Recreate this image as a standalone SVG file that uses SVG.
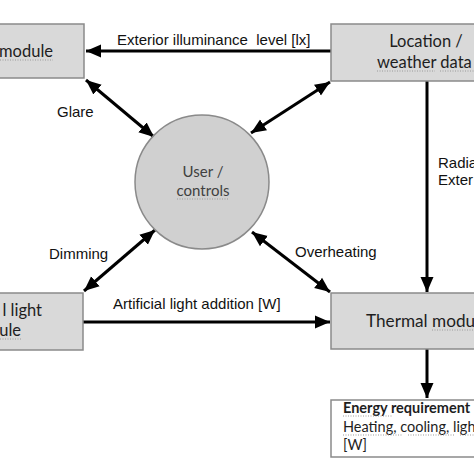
<svg xmlns="http://www.w3.org/2000/svg" width="474" height="474" viewBox="0 0 474 474">
<style>
.box{fill:#d9d9d9;stroke:#8a8a8a;stroke-width:1.5}
.ebox{fill:#ffffff;stroke:#8a8a8a;stroke-width:1.5}
.bt{font-family:Lato,"Liberation Sans",sans-serif;font-size:16.5px;fill:#1e1e1e}
.ct{font-family:Lato,"Liberation Sans",sans-serif;font-size:15px;fill:#404040;text-anchor:middle}
.et{font-family:Lato,"Liberation Sans",sans-serif;font-size:14.5px;fill:#1e1e1e}
.lb{font-family:"Liberation Sans",Arial,sans-serif;font-size:15px;fill:#111}
.con{stroke:#000;stroke-width:3;fill:none}
.one{marker-end:url(#ah)}
.two{marker-start:url(#ah);marker-end:url(#ah)}
.sq{stroke:#9a9a9a;stroke-width:1;stroke-dasharray:1 1.5;fill:none}
</style>
<defs>
<marker id="ah" markerUnits="userSpaceOnUse" markerWidth="16" markerHeight="14" refX="15" refY="7" orient="auto-start-reverse" viewBox="0 0 16 14">
<path d="M0,0.5 L15,7 L0,13.5 z" fill="#000"/>
</marker>
</defs>
<rect width="474" height="474" fill="#fff"/>
<g id="connectors">
<line class="con one" x1="331" y1="51" x2="86" y2="51"/>
<line class="con two" x1="86" y1="80" x2="154" y2="137"/>
<line class="con two" x1="330" y1="82" x2="251" y2="133"/>
<line class="con two" x1="155" y1="230" x2="84" y2="291"/>
<line class="con two" x1="252" y1="232" x2="330" y2="292"/>
<line class="con one" x1="83" y1="322" x2="330" y2="322"/>
<line class="con one" x1="427" y1="81" x2="427" y2="292"/>
<line class="con one" x1="427" y1="349" x2="427" y2="398"/>
</g>
<g id="labels">
<text class="lb" x="117" y="45" xml:space="preserve">Exterior illuminance  level [lx]</text>
<text class="lb" x="57" y="117">Glare</text>
<text class="lb" x="49" y="259">Dimming</text>
<text class="lb" x="295" y="257">Overheating</text>
<text class="lb" x="113" y="309">Artificial light addition [W]</text>
<text class="lb" x="438" y="168">Radia</text>
<text class="lb" x="438" y="185">Exter</text>
</g>
<g id="daylight-module">
<rect class="box" x="-10" y="24" width="94" height="54"/>
<text class="bt" x="53" y="57" text-anchor="end">module</text>
<path class="sq" d="M0,60 H53"/>
</g>
<g id="location-weather">
<rect class="box" x="331" y="24" width="150" height="57"/>
<text class="bt" x="426" y="47" text-anchor="middle">Location /</text>
<text class="bt" x="377" y="68">weather data</text>
<path class="sq" d="M377,71 H435 M440,71 H474"/>
</g>
<g id="user-controls">
<circle cx="202" cy="182" r="67" fill="#d0d0d0" stroke="#8a8a8a" stroke-width="1.5"/>
<text class="ct" x="203" y="177">User /</text>
<text class="ct" x="203" y="196">controls</text>
<path class="sq" d="M177,199 H229"/>
</g>
<g id="artificial-light-module">
<rect class="box" x="-10" y="293" width="93" height="57"/>
<text class="bt" x="42" y="316" text-anchor="end">l light</text>
<text class="bt" x="21" y="336" text-anchor="end">ule</text>
<path class="sq" d="M0,339 H21"/>
</g>
<g id="thermal-module">
<rect class="box" x="331" y="293" width="150" height="56"/>
<text class="bt" x="366" y="327" style="font-size:17.2px">Thermal modu</text>
<path class="sq" d="M432,330 H474"/>
</g>
<g id="energy-requirement">
<rect class="ebox" x="331" y="400" width="150" height="57"/>
<text class="et" x="343" y="413" font-weight="bold">Energy requirement</text>
<text class="et" x="343" y="432">Heating, cooling, ligh</text>
<text class="et" x="343" y="450">[W]</text>
<path class="sq" d="M343,416 H393 M343,435 H403 M408,435 H455 M460,435 H474"/>
</g>
</svg>
